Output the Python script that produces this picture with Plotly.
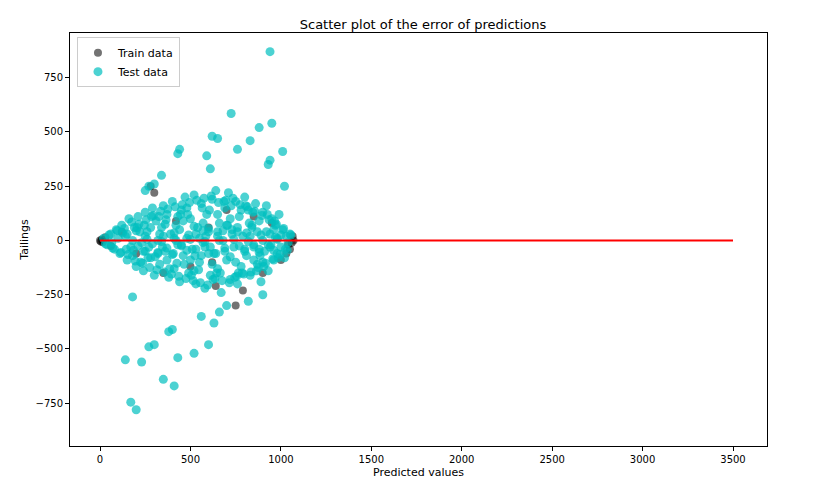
import plotly.graph_objects as go

# residuals (predicted value, residual)
train_x = [0, 5, 10, 15, 30, 60, 120, 200, 280, 300, 350, 420, 500, 600, 620, 640, 700, 750, 790, 850, 900, 950, 1000, 1030, 1040, 1050, 1060, 1065, 1070]
train_y = [0, -5, 5, -8, 15, -25, 40, -60, 250, 220, -150, 90, -120, 60, -100, -210, 140, -300, -230, 110, -150, 80, -90, -60, -20, -40, -10, 20, 0]

test_x = [20, 40, 60, 80, 90, 110, 120, 140, 150, 160, 170, 190, 200, 210, 230, 240, 250, 260, 280, 290,
          300, 310, 320, 330, 350, 360, 370, 380, 390, 400, 410, 420, 430, 440, 450, 460, 470, 480, 490, 500,
          510, 520, 530, 540, 550, 560, 570, 580, 590, 600, 610, 620, 630, 640, 650, 660, 670, 680, 690, 700,
          710, 720, 730, 740, 750, 760, 770, 780, 790, 800, 810, 820, 830, 840, 850, 860, 870, 880, 890, 900,
          910, 920, 930, 940, 950, 960, 970, 980, 990, 1000, 1010, 1020, 1030, 1040, 1050,
          100, 180, 220, 270, 340, 370, 410, 460, 500, 530, 570, 600, 650, 690, 720, 760, 800, 830, 870, 900,
          940, 980, 450, 550, 650, 750, 850, 350, 250, 150, 620, 700, 780, 480, 520, 580, 430, 320, 880, 960,
          30, 50, 70, 95, 115, 135, 155, 175, 195, 215, 235, 255, 275, 295, 315, 335, 355, 375, 395, 415,
          435, 455, 475, 495, 515, 535, 555, 575, 595, 615, 635, 655, 675, 695, 715, 735, 755, 775, 795, 815,
          835, 855, 875, 895, 915, 935, 955, 975, 995, 1015, 1035, 1055,
          65, 125, 185, 245, 305, 365, 425, 485, 545, 605, 665, 725, 785, 845, 905, 965, 1025,
          145, 205, 265, 325, 385, 445, 505, 565, 625, 685, 745, 805, 865, 925, 985,
          225, 285, 345, 405, 465, 525, 585, 645, 705, 765, 825, 885, 945,
          200, 240, 280, 320, 360, 400, 440, 480, 520, 560, 600, 640, 680, 720, 760, 800, 840, 880, 920, 960, 1000,
          210, 250, 290, 330, 370, 410, 450, 490, 530, 570, 610, 650, 690, 730, 770, 810, 850, 890, 930, 970,
          180, 260, 340, 420, 500, 580, 660, 740, 820, 900, 980,
          940, 725, 950, 620, 650, 830, 880, 940, 930, 1010, 760, 590, 610, 440, 430, 340, 300, 1020, 250, 270,
          170, 200, 140, 410, 350, 230, 270, 300, 430, 400, 520, 600, 630, 700, 180, 660, 560, 380, 820, 900]
test_y = [10, -20, 30, -40, 50, -60, 70, 20, -90, 100, -30, 60, -120, 110, -10, -140, 130, 40, -80, 150,
          -160, 90, 0, -110, 160, -50, 120, -170, 30, 180, -130, 70, -20, -190, 140, -70, 200, 10, -150, 100,
          -40, 210, -200, 60, -100, 170, -10, -220, 120, 40, -160, 190, -60, 230, -130, 80, -240, 0, 150, -90,
          220, -180, 50, -30, 180, -200, 110, -120, 20, 200, -70, 140, -160, 60, -20, 170, -110, 90, -190, 130,
          -50, 160, -140, 30, 100, -90, 70, -60, 120, -30, 50, -80, 20, -10, 30,
          10, -70, 40, -30, 60, -90, 10, 90, -90, 30, 80, -60, 20, -50, 100, 40, -40, 20, 40, -100,
          -30, 10, -20, 10, 120, -100, -90, 20, -50, 30, -110, 70, 140, 150, -140, -30, 110, -60, -40, 50,
          -15, 25, -35, 45, -55, 55, -65, 85, -95, 75, -105, 95, -125, 115, -135, 135, -145, 145, -155, 155,
          -165, 165, -175, 175, -185, 185, -195, 195, -205, 205, -175, 175, -185, 185, -195, 195, -165, 165, -155, 155,
          -145, 135, -125, 115, -105, 95, -85, 75, -65, 55, -45, 25,
          -10, 35, -45, 70, -75, 95, -105, 120, -135, 140, -150, 160, -150, 130, -120, 90, -40,
          -40, 60, -80, 110, -130, 120, -160, 150, -180, 180, -170, 160, -140, 120, -80,
          -100, 110, -30, -60, -110, -70, 20, -150, 70, -150, 80, -70, -20,
          45, -50, 60, -55, 75, -65, 50, -45, 65, -70, 55, -60, 45, -75, 60, -50, 70, -55, 40, -45, 25,
          -25, 20, -15, 30, -35, 35, -25, 25, -40, 45, -30, 40, -35, 30, -25, 35, -30, 25, -20, 15,
          0, 5, -5, 0, 5, -5, 0, 5, -5, 0, 5,
          870, 585, 540, 480, 470, 460, 520, 370, 350, 410, 420, 390, 330, 420, 400, 300, 260, 250, 230, 250,
          -745, -780, -550, -670, -640, -560, -490, -480, -540, -410, -520, -480, -380, -300, -260, -330, -350, -420, -280, -250]

fig = go.Figure()
fig.add_trace(go.Scatter(x=train_x, y=train_y, mode="markers", name="Train data",
                         marker=dict(color="black", size=8, opacity=0.55)))
fig.add_trace(go.Scatter(x=test_x, y=test_y, mode="markers", name="Test data",
                         marker=dict(color="rgb(0,191,191)", size=9, opacity=0.7)))
fig.add_trace(go.Scatter(x=[0, 3500], y=[0, 0], mode="lines", showlegend=False,
                         line=dict(color="red", width=2)))

axis = dict(showgrid=False, zeroline=False, showline=True, mirror=True, linecolor="black",
            ticks="outside", ticklen=4, tickcolor="black", tickfont=dict(size=10, color="black"))
fig.update_layout(
    width=830, height=481, paper_bgcolor="white", plot_bgcolor="white",
    margin=dict(l=62, r=71, t=25, b=31),
    font=dict(family="DejaVu Sans", color="black"),
    title=dict(text="Scatter plot of the error of predictions", x=0.5, y=0.975,
               xanchor="center", font=dict(size=13)),
    legend=dict(x=0.01, y=0.99, bordercolor="#cccccc", borderwidth=1, font=dict(size=11),
                bgcolor="rgba(255,255,255,0.8)"),
)
fig.update_xaxes(axis, range=[-166, 3688], tickvals=[0, 500, 1000, 1500, 2000, 2500, 3000, 3500],
                 title=dict(text="Predicted values", font=dict(size=11), standoff=4))
fig.update_yaxes(axis, range=[-947, 956], tickvals=[-750, -500, -250, 0, 250, 500, 750],
                 title=dict(text="Tailings", font=dict(size=11), standoff=4))
fig.write_html("out.html")
